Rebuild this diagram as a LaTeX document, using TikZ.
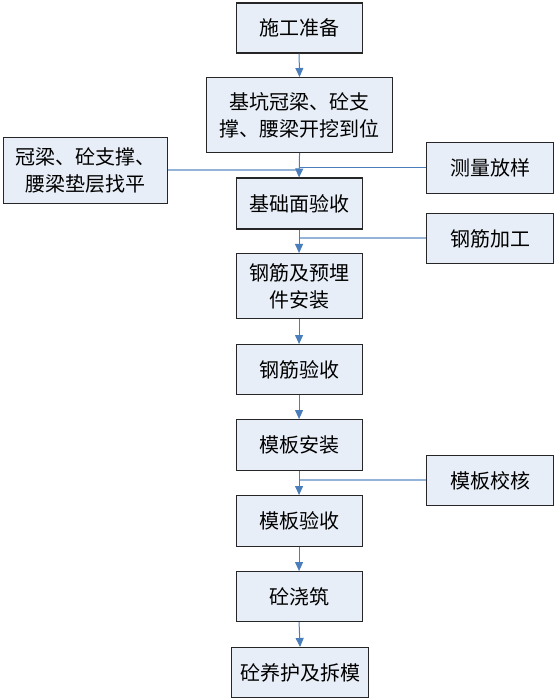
\documentclass[tikz,border=0pt]{standalone}
\usepackage{fontspec}
\setmainfont{Noto Sans CJK SC}
\usetikzlibrary{arrows.meta}
\definecolor{boxfill}{HTML}{E8EEF7}
\definecolor{arrowblue}{HTML}{4A7EBB}
\definecolor{lightblue}{HTML}{95B3D7}
\tikzset{
  box/.style={draw=black!85, line width=1.1pt, fill=boxfill, inner sep=0pt, anchor=north west,
    font=\fontsize{20}{27}\selectfont, align=center},
  flow/.style={draw=arrowblue, line width=1pt, -{Triangle[width=8pt,length=9pt]}},
  sidelight/.style={draw=lightblue, line width=1.8pt},
  sidedark/.style={draw=arrowblue, line width=1pt},
}
\begin{document}
\begin{tikzpicture}[x=1pt,y=-1pt]
\useasboundingbox (0,0) rectangle (554,700);
% main column
\node[box, minimum width=126pt, minimum height=50pt] (b1) at (235.5,2.5) {施工准备};
\node[box, minimum width=186pt, minimum height=75pt] (b2) at (206,77) {基坑冠梁、砼支\\撑、腰梁开挖到位};
\node[box, minimum width=126pt, minimum height=51pt] (b3) at (235.5,177.5) {基础面验收};
\node[box, minimum width=126pt, minimum height=65pt] (b4) at (235.5,253) {钢筋及预埋\\件安装};
\node[box, minimum width=126pt, minimum height=50pt] (b5) at (235.5,344) {钢筋验收};
\node[box, minimum width=126pt, minimum height=51pt] (b6) at (235.5,419) {模板安装};
\node[box, minimum width=126pt, minimum height=51pt] (b7) at (235.5,495) {模板验收};
\node[box, minimum width=126pt, minimum height=50pt] (b8) at (235.5,571) {砼浇筑};
\node[box, minimum width=137pt, minimum height=50pt] (b9) at (231,647) {砼养护及拆模};
% side boxes
\node[box, minimum width=164pt, minimum height=66pt] (s1) at (2.5,137) {冠梁、砼支撑、\\腰梁垫层找平};
\node[box, minimum width=127pt, minimum height=51pt] (s2) at (426,142) {测量放样};
\node[box, minimum width=127pt, minimum height=50pt] (s3) at (426,213) {钢筋加工};
\node[box, minimum width=127pt, minimum height=50pt] (s4) at (426,455) {模板校核};
% side connectors
\coordinate (j1) at (298.7,170);
\coordinate (j2) at (298.7,167.3);
\coordinate (j3) at (298.7,237.7);
\coordinate (j4) at (298.7,480);
\draw[sidelight] (s1.east |- j1) -- (j1);
\draw[sidedark] (s2.west |- j2) -- (j2);
\draw[sidelight] (s3.west |- j3) -- (j3);
\draw[sidelight] (s4.west |- j4) -- (j4);
% flow arrows
\draw[flow] (b1.south) -- (b2.north);
\draw[flow] (b2.south) -- (b3.north);
\draw[flow] (b3.south) -- (b4.north);
\draw[flow] (b4.south) -- (b5.north);
\draw[flow] (b5.south) -- (b6.north);
\draw[flow] (b6.south) -- (b7.north);
\draw[flow] (b7.south) -- (b8.north);
\draw[flow] (b8.south) -- (b9.north);
\end{tikzpicture}
\end{document}
